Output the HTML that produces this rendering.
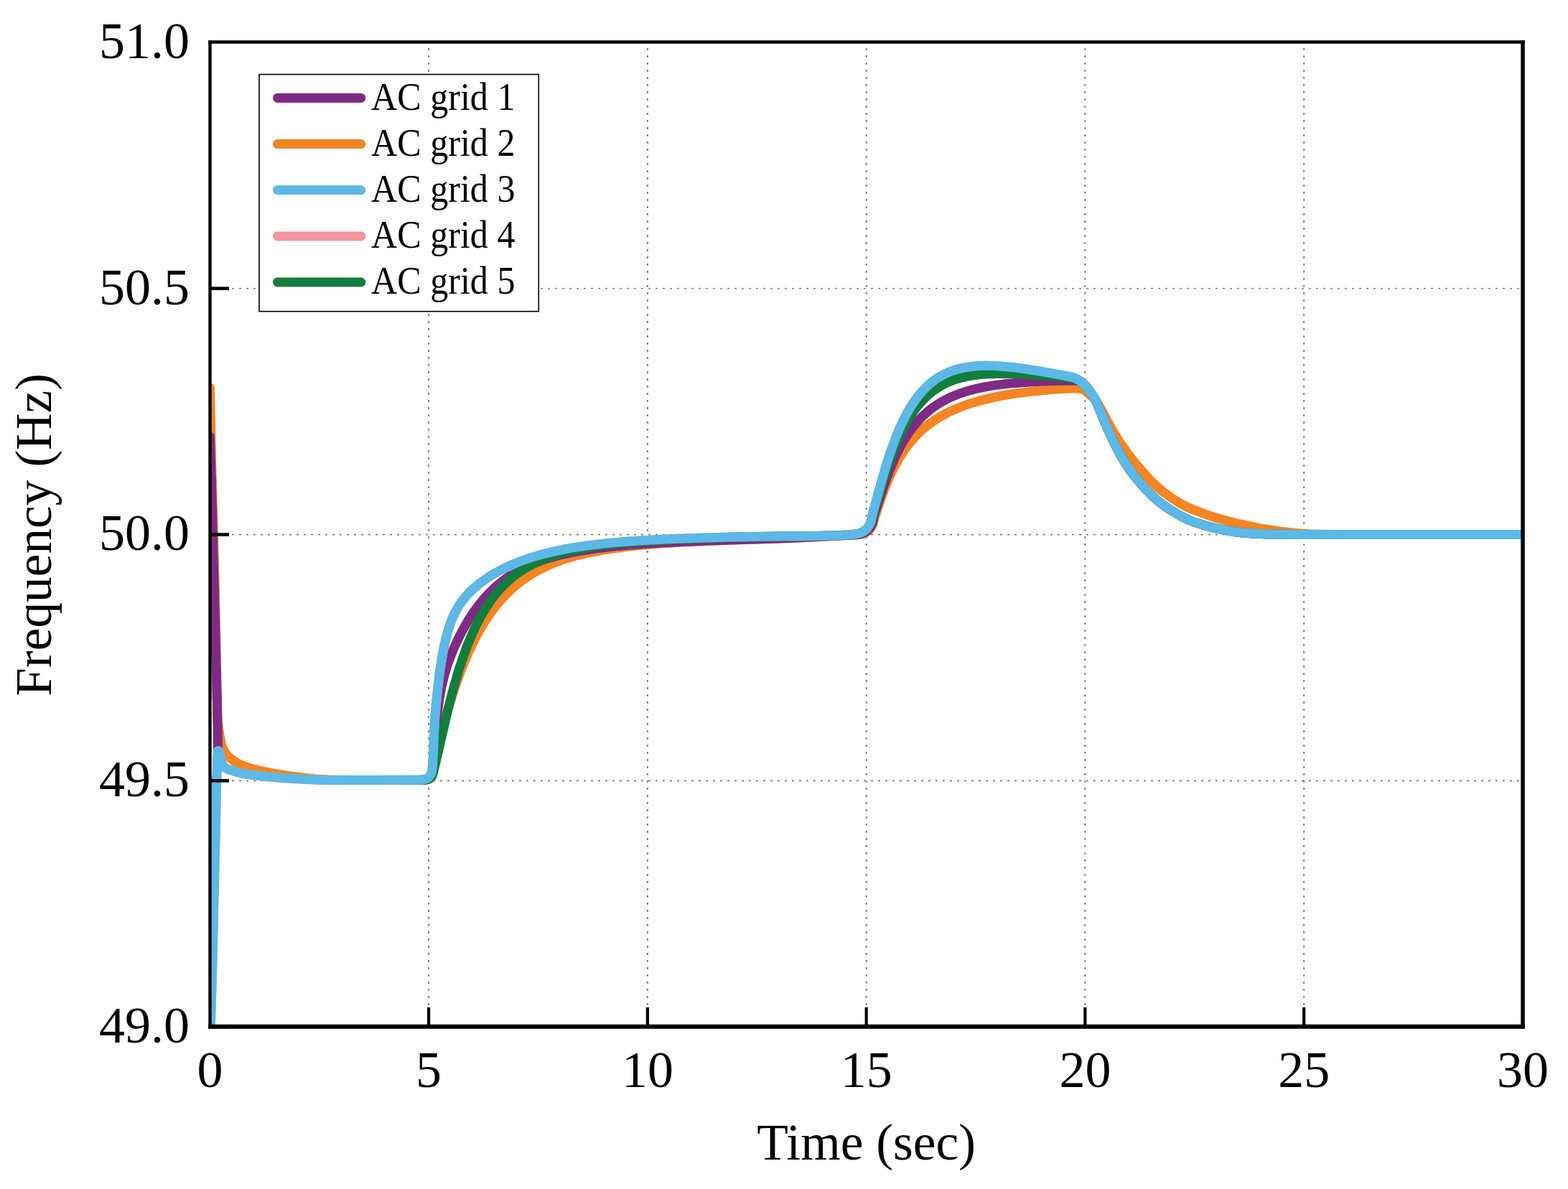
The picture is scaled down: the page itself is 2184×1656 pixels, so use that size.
<!DOCTYPE html><html><head><meta charset="utf-8"><title>Frequency</title><style>html,body{margin:0;padding:0;background:#fff;}svg{display:block;}</style></head><body><svg xmlns="http://www.w3.org/2000/svg" width="2184" height="1656" viewBox="0 0 2184 1656">
<defs><clipPath id="pa"><rect x="292.4" y="58.5" width="1828.6" height="1371.3"/></clipPath></defs>
<g stroke="#6a6a6a" stroke-width="2" stroke-dasharray="2.6 7.4" stroke-dashoffset="0"><line x1="597.1" y1="1429.8" x2="597.1" y2="58.5"/><line x1="901.9" y1="1429.8" x2="901.9" y2="58.5"/><line x1="1206.7" y1="1429.8" x2="1206.7" y2="58.5"/><line x1="1511.4" y1="1429.8" x2="1511.4" y2="58.5"/><line x1="1816.2" y1="1429.8" x2="1816.2" y2="58.5"/></g>
<g stroke="#6a6a6a" stroke-width="1.7" stroke-dasharray="2.6 7.4" stroke-dashoffset="-0.8"><line x1="292.4" y1="1087.35" x2="2121" y2="1087.35"/><line x1="292.4" y1="744.55" x2="2121" y2="744.55"/><line x1="292.4" y1="401.75" x2="2121" y2="401.75"/></g>
<g clip-path="url(#pa)" fill="none" stroke-width="13" stroke-linecap="round" stroke-linejoin="round">
<path stroke="#f38522" d="M292.4,540.0 L294.6,641.0 L297.4,740.4 L299.9,841.4 L300.8,884.4 L301.8,955.5 L302.5,985.4 L303.0,999.4 L303.4,1005.3 L306.2,1025.7 L308.0,1035.0 L309.5,1040.3 L311.3,1044.4 L313.9,1048.7 L317.1,1052.5 L321.5,1056.6 L327.1,1060.8 L329.7,1062.4 L337.3,1066.1 L343.4,1068.3 L351.1,1070.6 L360.3,1072.9 L370.6,1075.0 L385.4,1077.8 L400.7,1080.3 L412.6,1082.0 L426.5,1083.7 L439.4,1084.9 L457.4,1085.9 L470.4,1086.3 L492.4,1086.5 L587.4,1086.5 L592.4,1086.3 L595.4,1086.0 L597.3,1085.5 L598.8,1084.5 L600.3,1082.6 L601.4,1079.8 L608.6,1047.0 L615.4,1018.9 L622.6,992.3 L630.2,967.4 L637.6,945.7 L645.2,925.6 L653.1,907.2 L661.4,890.1 L665.8,881.7 L670.3,873.9 L675.0,866.2 L679.6,859.1 L684.5,852.1 L689.6,845.3 L694.7,839.1 L700.0,833.1 L705.5,827.3 L710.8,822.1 L716.8,816.8 L722.6,812.0 L728.6,807.5 L734.7,803.2 L741.0,799.2 L748.0,795.2 L760.0,789.1 L772.9,783.6 L786.5,778.7 L801.4,774.3 L817.4,770.4 L834.6,767.0 L853.3,764.0 L873.7,761.3 L890.6,759.6 L909.0,757.9 L928.9,756.5 L950.9,755.1 L979.4,753.7 L1010.8,752.4 L1094.3,749.8 L1150.7,747.1 L1194.7,744.7 L1199.6,744.0 L1204.0,742.7 L1207.5,741.0 L1210.3,738.8 L1212.8,735.7 L1214.9,731.8 L1216.2,728.5 L1218.8,719.4 L1223.6,704.6 L1227.8,692.3 L1231.6,682.0 L1235.3,672.7 L1239.0,664.0 L1242.8,655.8 L1246.9,647.8 L1253.6,636.1 L1260.8,625.2 L1268.4,615.3 L1272.6,610.4 L1276.7,606.0 L1281.7,601.1 L1286.9,596.5 L1292.3,592.0 L1298.0,587.9 L1303.8,584.0 L1310.2,580.0 L1316.7,576.4 L1323.4,573.0 L1330.2,569.9 L1337.6,566.9 L1345.1,564.1 L1353.2,561.4 L1361.8,558.9 L1370.5,556.6 L1389.1,552.4 L1406.3,549.3 L1425.1,546.6 L1445.5,544.3 L1467.9,542.3 L1488.3,540.9 L1495.8,540.7 L1500.8,540.9 L1504.3,541.3 L1507.2,542.0 L1510.0,543.1 L1512.4,544.7 L1521.2,552.2 L1524.6,555.8 L1527.9,560.2 L1529.8,563.1 L1529.9,563.7 L1534.0,570.6 L1545.5,592.2 L1553.2,605.6 L1562.4,619.9 L1572.3,633.7 L1582.2,646.3 L1592.3,658.0 L1602.2,668.6 L1611.9,678.0 L1621.1,685.7 L1631.2,693.1 L1642.1,700.1 L1647.4,703.0 L1652.7,705.7 L1664.2,710.7 L1680.1,716.6 L1695.8,721.7 L1711.7,726.1 L1726.3,729.7 L1742.4,733.2 L1755.6,735.8 L1768.4,738.0 L1782.3,740.0 L1795.2,741.5 L1811.2,742.9 L1824.6,743.7 L1841.6,744.2 L1868.6,744.4 L2130.0,744.4"/>
<path stroke="#7f2a85" d="M292.4,608.0 L294.2,664.5 L299.3,859.4 L301.6,939.4 L302.5,978.4 L303.5,1046.0 M560.0,1086.5 L587.1,1086.3 L592.5,1086.0 L594.9,1085.3 L597.0,1084.2 L598.8,1082.5 L600.2,1080.4 L601.2,1078.1 L601.9,1075.8 L602.9,1070.8 L603.6,1054.8 L607.0,1013.9 L609.5,990.6 L612.4,970.8 L615.3,955.1 L618.8,941.0 L622.9,927.1 L628.0,913.0 L631.6,904.2 L635.7,895.1 L639.8,886.5 L644.2,878.1 L648.8,869.8 L653.4,862.1 L658.3,854.5 L663.2,847.6 L668.4,840.8 L673.5,834.6 L678.8,828.7 L684.4,823.0 L690.2,817.5 L695.9,812.6 L701.8,808.0 L708.3,803.3 L714.2,799.5 L720.2,795.9 L726.3,792.6 L733.1,789.2 L739.9,786.2 L746.8,783.3 L754.3,780.6 L761.9,778.1 L770.1,775.7 L778.3,773.5 L795.9,769.6 L815.6,766.1 L837.3,763.0 L856.2,760.9 L876.6,759.1 L899.6,757.3 L925.0,755.8 L957.5,754.2 L994.0,752.7 L1098.4,749.6 L1188.3,745.1 L1196.8,744.3 L1199.7,743.6 L1202.1,742.8 L1205.6,741.0 L1208.7,738.5 L1212.3,734.2 L1214.6,730.3 L1215.7,727.1 L1216.8,720.7 L1217.9,716.4 L1227.7,686.4 L1235.4,664.3 L1242.8,645.7 L1249.8,630.2 L1253.5,623.1 L1257.1,616.5 L1260.9,610.1 L1264.7,604.2 L1268.8,598.5 L1272.7,593.3 L1276.9,588.3 L1281.3,583.5 L1285.9,578.9 L1290.7,574.6 L1295.7,570.4 L1300.5,566.8 L1305.9,563.2 L1311.4,559.8 L1317.1,556.7 L1322.9,553.8 L1328.9,551.2 L1335.4,548.7 L1342.0,546.4 L1348.7,544.3 L1355.9,542.4 L1363.7,540.5 L1375.0,538.3 L1386.9,536.4 L1399.8,534.8 L1414.2,533.4 L1437.6,531.8 L1464.6,530.6 L1492.1,529.9 L1496.6,530.0 L1500.0,530.5 L1501.0,528.7 L1504.5,530.9 L1507.7,533.3 L1512.1,537.4 L1515.9,542.0 L1523.3,552.7 L1525.7,557.0 L1528.4,562.9 L1538.1,586.6 L1547.0,606.7 L1553.1,619.3 L1559.3,631.3 L1566.4,643.4 L1573.5,654.2 L1581.4,664.6 L1590.8,675.7 L1601.7,687.3 L1606.8,692.2 L1611.6,696.5 L1616.3,700.3 L1621.5,704.2 L1627.2,708.2 L1634.0,712.5 L1645.6,719.3 L1651.0,722.0 L1656.4,724.4 L1662.0,726.6 L1668.1,728.8 L1683.0,733.2 L1692.7,735.6 L1703.0,737.7 L1713.8,739.7 L1723.7,741.2 L1732.7,742.1 L1742.6,742.9 L1754.6,743.5 L1768.1,744.0 L1803.6,744.4 L2130.0,744.4"/>
<path stroke="#f2959c" d="M292.4,1087.0 L293.0,1444.9 L295.7,1349.5 L301.7,1092.1 L302.8,1054.6 L303.2,1047.8 L303.4,1046.4 L303.7,1045.7 L303.9,1045.6 L304.5,1046.3 L305.3,1048.4 L307.3,1057.2 L309.3,1063.1 L311.1,1066.6 L312.3,1068.0 L313.6,1069.2 L316.1,1070.6 L318.9,1071.9 L329.7,1075.4 L339.5,1077.6 L350.3,1079.3 L372.2,1081.7 L400.1,1084.0 L421.6,1085.3 L449.0,1086.3 L500.0,1086.6 L578.0,1086.3 L584.5,1086.2 L589.0,1085.8 L592.5,1085.2 L594.8,1084.3 L596.0,1083.5 L597.6,1082.3 L599.6,1079.5 L601.1,1075.8 L602.2,1070.9 L603.1,1058.4 L605.4,1004.5 L607.1,984.1 L609.3,962.2 L612.2,938.3 L615.3,917.6 L618.7,899.4 L622.5,883.9 L626.1,871.9 L630.1,861.1 L634.6,851.6 L637.3,846.8 L639.9,842.6 L645.7,834.4 L648.9,830.6 L652.6,826.5 L660.1,819.2 L669.0,811.9 L675.9,806.9 L683.0,802.3 L690.3,797.9 L698.2,793.6 L706.2,789.7 L714.9,785.8 L723.7,782.2 L732.6,779.0 L742.1,775.9 L751.7,773.0 L761.9,770.4 L772.6,767.9 L783.9,765.5 L795.2,763.4 L807.5,761.4 L820.4,759.6 L843.2,756.9 L868.1,754.6 L895.5,752.7 L926.5,751.0 L965.5,749.5 L1010.9,748.2 L1080.4,746.9 L1135.9,746.4 L1170.4,745.4 L1181.4,744.8 L1190.4,744.1 L1195.8,743.2 L1199.6,741.9 L1203.5,739.7 L1206.5,737.1 L1208.2,735.2 L1209.9,732.8 L1211.3,730.6 L1212.3,728.4 L1213.2,725.5 L1215.5,715.3 L1229.2,665.7 L1235.4,644.6 L1241.6,626.1 L1248.2,608.3 L1254.8,592.6 L1258.3,585.4 L1261.9,578.3 L1265.5,571.7 L1269.1,565.7 L1273.0,559.9 L1276.7,554.6 L1280.7,549.4 L1284.6,544.9 L1288.8,540.5 L1293.1,536.4 L1297.7,532.5 L1302.0,529.2 L1306.6,526.1 L1311.3,523.3 L1316.2,520.8 L1321.2,518.5 L1326.3,516.5 L1332.0,514.7 L1337.8,513.1 L1343.7,511.9 L1350.6,510.8 L1358.0,510.0 L1365.5,509.5 L1373.5,509.3 L1382.0,509.5 L1391.0,509.9 L1401.0,510.7 L1411.4,511.7 L1427.3,513.8 L1445.1,516.5 L1465.8,520.1 L1489.4,524.5 L1493.3,525.3 L1496.5,526.4 L1499.7,527.9 L1503.2,530.1 L1508.8,534.3 L1513.1,538.5 L1516.2,542.4 L1521.7,550.2 L1523.8,553.6 L1526.1,557.9 L1528.6,563.3 L1537.8,585.6 L1546.2,604.9 L1551.9,617.1 L1557.9,628.7 L1564.6,640.4 L1571.3,650.9 L1578.6,661.0 L1587.1,671.5 L1597.5,683.1 L1607.1,692.5 L1615.9,700.0 L1626.0,707.3 L1639.1,715.6 L1645.2,719.0 L1650.5,721.8 L1656.0,724.2 L1662.0,726.6 L1675.3,731.0 L1685.4,733.8 L1696.1,736.3 L1708.4,738.8 L1719.3,740.6 L1728.2,741.7 L1738.1,742.6 L1750.1,743.3 L1763.6,743.8 L1783.1,744.3 L1802.6,744.4 L2130.0,744.4"/>
<path stroke="#137d3e" d="M560.0,1086.5 L586.0,1086.3 L593.5,1085.9 L595.9,1085.4 L598.2,1084.5 L600.1,1083.0 L601.6,1081.0 L602.8,1078.3 L603.9,1074.5 L622.8,993.1 L627.8,973.2 L632.7,954.8 L638.1,936.1 L643.7,919.0 L649.4,903.0 L655.3,888.1 L662.1,873.1 L669.2,859.3 L676.8,846.4 L684.6,834.8 L688.9,829.2 L693.0,824.2 L697.3,819.3 L701.8,814.7 L706.5,810.2 L711.4,805.8 L716.0,802.1 L721.2,798.2 L727.0,794.2 L732.9,790.6 L739.1,787.1 L745.3,784.0 L752.1,780.9 L759.1,778.0 L766.1,775.5 L773.7,773.0 L781.9,770.6 L790.1,768.4 L807.7,764.6 L827.4,761.2 L849.7,758.2 L870.6,756.0 L893.5,754.1 L918.9,752.4 L946.9,750.9 L985.3,749.4 L1029.3,748.1 L1100.3,746.7 L1136.3,746.5 L1171.8,745.4 L1182.3,744.9 L1190.8,744.1 L1196.2,743.2 L1200.0,741.9 L1203.9,739.8 L1207.4,736.9 L1210.6,733.1 L1212.0,730.9 L1212.8,729.1 L1213.6,726.8 L1214.8,721.0 L1215.7,717.6 L1229.6,671.6 L1236.3,650.7 L1242.7,632.8 L1249.4,616.1 L1256.0,601.5 L1263.0,588.3 L1270.0,576.8 L1273.7,571.4 L1277.7,566.2 L1281.5,561.6 L1285.5,557.2 L1289.7,552.9 L1293.8,549.2 L1298.1,545.7 L1302.5,542.5 L1307.1,539.5 L1311.8,536.7 L1316.7,534.2 L1321.7,531.9 L1326.8,529.9 L1332.5,527.9 L1338.2,526.3 L1344.1,524.9 L1350.5,523.6 L1357.4,522.5 L1371.8,521.1 L1387.8,520.4 L1406.3,520.6 L1419.3,521.0 L1433.7,521.9 L1468.1,524.5 L1492.0,526.8 L1496.4,527.6 L1500.0,529.0 L1500.6,528.4 L1501.5,529.0 L1504.9,531.2 L1508.1,533.6 L1512.4,537.7 L1515.9,542.0 L1523.5,553.1 L1525.9,557.5 L1528.4,562.9 L1537.9,586.1 L1546.6,605.8 L1552.6,618.4 L1558.9,630.4 L1565.9,642.6 L1572.7,653.0 L1580.4,663.4 L1589.4,674.2 L1600.0,685.6 L1604.9,690.5 L1609.7,694.9 L1614.3,698.7 L1619.4,702.7 L1630.6,710.3 L1643.0,717.8 L1648.3,720.7 L1653.7,723.2 L1659.2,725.6 L1665.3,727.8 L1679.6,732.3 L1689.8,734.9 L1700.0,737.2 L1711.3,739.3 L1721.7,740.9 L1730.7,742.0 L1740.6,742.8 L1752.6,743.4 L1766.1,743.9 L1784.6,744.3 L1803.1,744.4 L2130.0,744.4"/>
<path stroke="#5cb8e6" d="M292.4,1087.0 L293.0,1444.9 L295.7,1349.5 L301.7,1092.1 L302.8,1054.6 L303.2,1047.8 L303.4,1046.4 L303.7,1045.7 L303.9,1045.6 L304.5,1046.3 L305.3,1048.4 L307.3,1057.2 L309.3,1063.1 L311.1,1066.6 L312.3,1068.0 L313.6,1069.2 L316.1,1070.6 L318.9,1071.9 L329.7,1075.4 L339.5,1077.6 L350.3,1079.3 L372.2,1081.7 L400.1,1084.0 L421.6,1085.3 L449.0,1086.3 L500.0,1086.6 L578.0,1086.3 L584.5,1086.2 L589.0,1085.8 L592.5,1085.2 L594.8,1084.3 L596.0,1083.5 L597.6,1082.3 L599.6,1079.5 L601.1,1075.8 L602.2,1070.9 L603.1,1058.4 L605.4,1004.5 L607.1,984.1 L609.3,962.2 L612.2,938.3 L615.3,917.6 L618.7,899.4 L622.5,883.9 L626.1,871.9 L630.1,861.1 L634.6,851.6 L637.3,846.8 L639.9,842.6 L645.7,834.4 L648.9,830.6 L652.6,826.5 L660.1,819.2 L669.0,811.9 L675.9,806.9 L683.0,802.3 L690.3,797.9 L698.2,793.6 L706.2,789.7 L714.9,785.8 L723.7,782.2 L732.6,779.0 L742.1,775.9 L751.7,773.0 L761.9,770.4 L772.6,767.9 L783.9,765.5 L795.2,763.4 L807.5,761.4 L820.4,759.6 L843.2,756.9 L868.1,754.6 L895.5,752.7 L926.5,751.0 L965.5,749.5 L1010.9,748.2 L1080.4,746.9 L1135.9,746.4 L1170.4,745.4 L1181.4,744.8 L1190.4,744.1 L1195.8,743.2 L1199.6,741.9 L1203.5,739.7 L1206.5,737.1 L1208.2,735.2 L1209.9,732.8 L1211.3,730.6 L1212.3,728.4 L1213.2,725.5 L1215.5,715.3 L1229.2,665.7 L1235.4,644.6 L1241.6,626.1 L1248.2,608.3 L1254.8,592.6 L1258.3,585.4 L1261.9,578.3 L1265.5,571.7 L1269.1,565.7 L1273.0,559.9 L1276.7,554.6 L1280.7,549.4 L1284.6,544.9 L1288.8,540.5 L1293.1,536.4 L1297.7,532.5 L1302.0,529.2 L1306.6,526.1 L1311.3,523.3 L1316.2,520.8 L1321.2,518.5 L1326.3,516.5 L1332.0,514.7 L1337.8,513.1 L1343.7,511.9 L1350.6,510.8 L1358.0,510.0 L1365.5,509.5 L1373.5,509.3 L1382.0,509.5 L1391.0,509.9 L1401.0,510.7 L1411.4,511.7 L1427.3,513.8 L1445.1,516.5 L1465.8,520.1 L1489.4,524.5 L1493.3,525.3 L1496.5,526.4 L1499.7,527.9 L1503.2,530.1 L1508.8,534.3 L1513.1,538.5 L1516.2,542.4 L1521.7,550.2 L1523.8,553.6 L1526.1,557.9 L1528.6,563.3 L1537.8,585.6 L1546.2,604.9 L1551.9,617.1 L1557.9,628.7 L1564.6,640.4 L1571.3,650.9 L1578.6,661.0 L1587.1,671.5 L1597.5,683.1 L1607.1,692.5 L1615.9,700.0 L1626.0,707.3 L1639.1,715.6 L1645.2,719.0 L1650.5,721.8 L1656.0,724.2 L1662.0,726.6 L1675.3,731.0 L1685.4,733.8 L1696.1,736.3 L1708.4,738.8 L1719.3,740.6 L1728.2,741.7 L1738.1,742.6 L1750.1,743.3 L1763.6,743.8 L1783.1,744.3 L1802.6,744.4 L2130.0,744.4"/>
</g>
<g stroke="#000" stroke-width="4.2"><line x1="597.1" y1="1427" x2="597.1" y2="1403"/><line x1="901.9" y1="1427" x2="901.9" y2="1403"/><line x1="1206.7" y1="1427" x2="1206.7" y2="1403"/><line x1="1511.4" y1="1427" x2="1511.4" y2="1403"/><line x1="1816.2" y1="1427" x2="1816.2" y2="1403"/></g>
<g stroke="#000" stroke-width="4.6"><line x1="294" y1="1430.15" x2="319" y2="1430.15"/><line x1="294" y1="1087.35" x2="319" y2="1087.35"/><line x1="294" y1="744.55" x2="319" y2="744.55"/><line x1="294" y1="401.75" x2="319" y2="401.75"/></g>
<g fill="#000"><rect x="290.3" y="56.3" width="4.4" height="1376.5"/><rect x="2118.3" y="56.3" width="5.5" height="1376.5"/><rect x="290.3" y="56.3" width="1833.5" height="4.5"/><rect x="290.3" y="1426.8" width="1833.5" height="6"/></g>
<g font-family="Liberation Serif, Times New Roman, serif" font-size="72" fill="#000"><text x="264" y="80.7" text-anchor="end">51.0</text><text x="264" y="423.5" text-anchor="end">50.5</text><text x="264" y="766.3" text-anchor="end">50.0</text><text x="264" y="1109.1" text-anchor="end">49.5</text><text x="264" y="1451.9" text-anchor="end">49.0</text><text x="292.4" y="1514.0" text-anchor="middle">0</text><text x="597.1" y="1514.0" text-anchor="middle">5</text><text x="901.9" y="1514.0" text-anchor="middle">10</text><text x="1206.7" y="1514.0" text-anchor="middle">15</text><text x="1511.4" y="1514.0" text-anchor="middle">20</text><text x="1816.2" y="1514.0" text-anchor="middle">25</text><text x="2120.9" y="1514.0" text-anchor="middle">30</text></g>
<text transform="translate(1206.6,1614.5) scale(0.992,1)" text-anchor="middle" font-family="Liberation Serif, Times New Roman, serif" font-size="72">Time (sec)</text>
<text transform="translate(71,744.9) rotate(-90) scale(0.991,1)" text-anchor="middle" font-family="Liberation Serif, Times New Roman, serif" font-size="72">Frequency (Hz)</text>
<rect x="361" y="103.6" width="389.3" height="330.1" fill="#fff" stroke="#000" stroke-width="1.6"/><line x1="386.5" y1="136.4" x2="502.8" y2="136.4" stroke="#7f2a85" stroke-width="13" stroke-linecap="round"/><text transform="translate(517,152.7) scale(0.92,1)" font-family="Liberation Serif, Times New Roman, serif" font-size="54.5">AC grid 1</text><line x1="386.5" y1="200.6" x2="502.8" y2="200.6" stroke="#f38522" stroke-width="13" stroke-linecap="round"/><text transform="translate(517,216.9) scale(0.92,1)" font-family="Liberation Serif, Times New Roman, serif" font-size="54.5">AC grid 2</text><line x1="386.5" y1="264.7" x2="502.8" y2="264.7" stroke="#5cb8e6" stroke-width="13" stroke-linecap="round"/><text transform="translate(517,281.0) scale(0.92,1)" font-family="Liberation Serif, Times New Roman, serif" font-size="54.5">AC grid 3</text><line x1="386.5" y1="328.9" x2="502.8" y2="328.9" stroke="#f2959c" stroke-width="13" stroke-linecap="round"/><text transform="translate(517,345.2) scale(0.92,1)" font-family="Liberation Serif, Times New Roman, serif" font-size="54.5">AC grid 4</text><line x1="386.5" y1="393.0" x2="502.8" y2="393.0" stroke="#137d3e" stroke-width="13" stroke-linecap="round"/><text transform="translate(517,409.3) scale(0.92,1)" font-family="Liberation Serif, Times New Roman, serif" font-size="54.5">AC grid 5</text>
</svg></body></html>
